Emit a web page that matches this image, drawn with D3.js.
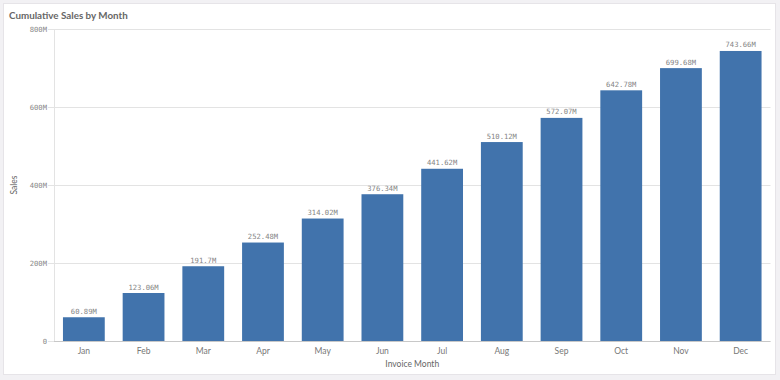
<!DOCTYPE html>
<html>
<head>
<meta charset="utf-8">
<script src="https://cdn.jsdelivr.net/npm/d3@7"></script>
<style>
  html, body { margin: 0; padding: 0; background: #f2f1f4; }
  svg { display: block; }
</style>
</head>
<body>
<svg id="chart" width="780" height="380"></svg>
<script>
const months = ["Jan","Feb","Mar","Apr","May","Jun","Jul","Aug","Sep","Oct","Nov","Dec"];
const sales = [60.89, 123.06, 191.7, 252.48, 314.02, 376.34, 441.62, 510.12, 572.07, 642.78, 699.68, 743.66];
const yTicks = [0, 200, 400, 600, 800];
const title = "Cumulative Sales by Month";
const xTitle = "Invoice Month";
const yTitle = "Sales";

const svg = d3.select("#chart");
const W = 780, H = 380;
const m = { left: 54, right: 9.5, top: 29, bottom: 39 };

svg.append("rect").attr("x", 3.5).attr("y", 3.5).attr("width", W - 8).attr("height", H - 9)
  .attr("fill", "#fff").attr("stroke", "#e6e4e8");

svg.append("text").attr("x", 9).attr("y", 19)
  .attr("font-family", "Lato, sans-serif").attr("font-weight", "bold")
  .attr("font-size", 9.8).attr("fill", "#666").text(title);

const x = d3.scaleBand().domain(months).range([m.left, W - m.right]).paddingInner(0.3).paddingOuter(0.15);
const y = d3.scaleLinear().domain([0, 800]).range([H - m.bottom, m.top]);

const numFont = "'DejaVu Sans Mono', monospace";

// gridlines
const yAxis = d3.axisLeft(y).tickValues(yTicks).tickFormat(d => d === 0 ? "0" : d + "M")
  .tickSize(-(W - m.right - m.left)).tickPadding(7);
const gy = svg.append("g").attr("transform", `translate(${m.left},0)`).call(yAxis);
gy.select(".domain").remove();
gy.selectAll(".tick line").attr("stroke", "#e3e3e3").attr("x1", -6);
gy.selectAll(".tick text").attr("font-family", numFont).attr("font-size", 7.2).attr("fill", "#888");

// left axis line
svg.append("line").attr("x1", m.left + 0.5).attr("x2", m.left + 0.5).attr("y1", m.top).attr("y2", H - m.bottom)
  .attr("stroke", "#e3e3e3");

// bars
svg.append("g").selectAll("rect").data(sales).join("rect")
  .attr("x", (d, i) => x(months[i]))
  .attr("width", x.bandwidth())
  .attr("y", d => y(d))
  .attr("height", d => y(0) - y(d))
  .attr("fill", "#4173ac");

// value labels
svg.append("g").selectAll("text").data(sales).join("text")
  .attr("x", (d, i) => x(months[i]) + x.bandwidth() / 2)
  .attr("y", d => y(d) - 3.5)
  .attr("text-anchor", "middle")
  .attr("font-family", numFont).attr("font-size", 7.2).attr("fill", "#858585")
  .text(d => d + "M");

// x axis
const xAxis = d3.axisBottom(x).tickSize(0).tickPadding(7);
const gx = svg.append("g").attr("transform", `translate(0,${H - m.bottom})`).call(xAxis);
gx.select(".domain").attr("stroke", "#c8c8c8").attr("d", `M${m.left},0.5H${W - m.right}`);
gx.selectAll(".tick text").attr("font-family", "Lato, sans-serif").attr("font-size", 8.5).attr("fill", "#777");

svg.append("text").attr("x", (m.left + W - m.right) / 2).attr("y", 367)
  .attr("text-anchor", "middle").attr("font-family", "Lato, sans-serif")
  .attr("font-size", 8.5).attr("fill", "#666").text(xTitle);

svg.append("text").attr("transform", `translate(17,${(m.top + H - m.bottom) / 2}) rotate(-90)`)
  .attr("text-anchor", "middle").attr("font-family", "Lato, sans-serif")
  .attr("font-size", 8.5).attr("fill", "#666").text(yTitle);
</script>
</body>
</html>
